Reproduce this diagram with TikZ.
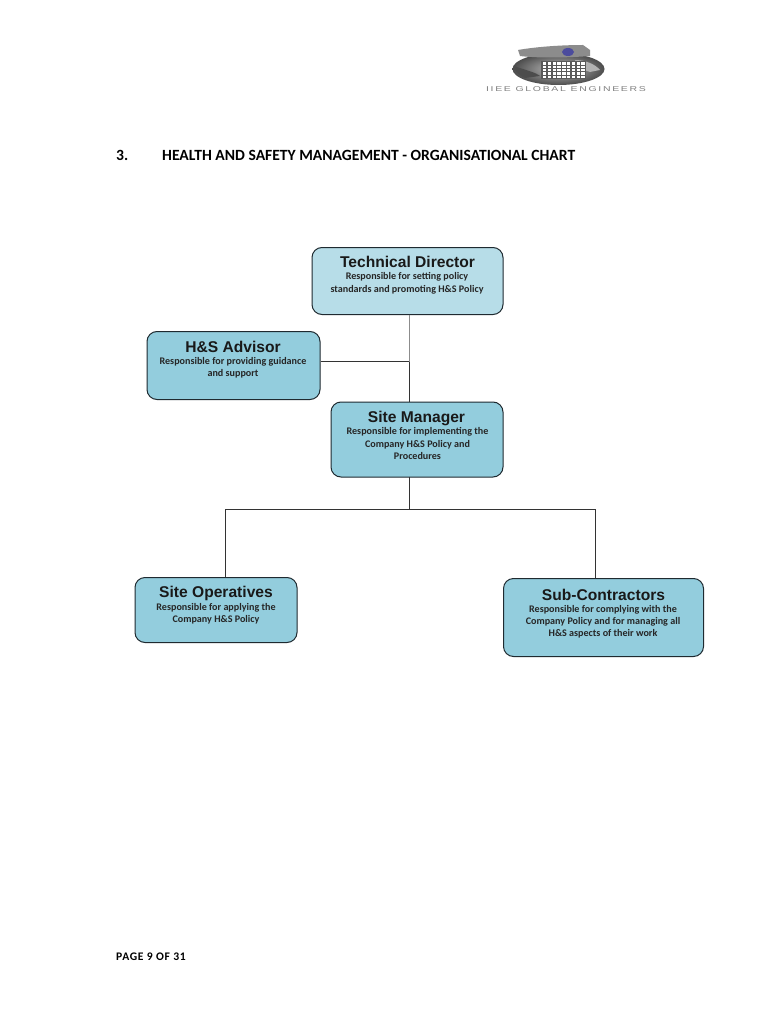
\documentclass[tikz,border=0pt]{standalone}
\usepackage{fontspec}
\setmainfont{Carlito}
\newfontfamily\headfont{Liberation Sans}
\usetikzlibrary{calc}
\definecolor{boxblue}{HTML}{93CDDD}
\definecolor{boxlight}{HTML}{B7DDE8}
\definecolor{edgecol}{HTML}{1F2A30}
\tikzset{
  x=1pt,y=-1pt,
  orgbox/.style={draw=edgecol,line width=1pt,rounded corners=10pt,fill=boxblue,inner sep=0pt},
  boxhead/.style={font=\headfont\bfseries\fontsize{15.6}{18}\selectfont,text=black!90,inner sep=0pt},
  boxbody/.style={font=\bfseries\fontsize{10.1}{12.3}\selectfont,text=black!85,align=center,inner sep=0pt,anchor=north},
  link/.style={draw=black!80,line width=0.9pt},
  pagetext/.style={font=\bfseries,text=black,inner sep=0pt,anchor=west},
}
\begin{document}
\begin{tikzpicture}
\useasboundingbox (0,0) rectangle (768,1024);
\fill[white] (0,0) rectangle (768,1024);

% logo
\begin{scope}
  \shade[inner color=black!25,outer color=black!70] (558.5,69) ellipse [x radius=46,y radius=16];
  \fill[black!30] (575,60) .. controls (585,60) and (595,64) .. (600,70) -- (590,72) -- (578,68) -- cycle;
  \fill[black!70] (514,66) .. controls (525,70) and (535,72) .. (540,76) -- (525,78) .. controls (518,75) and (514,71) .. (514,66) -- cycle;
  \fill[black!45] (518,50) .. controls (535,47) and (560,45) .. (583,45) -- (590,50) -- (590,56) .. controls (565,58) and (535,58) .. (520,56) -- cycle;
  \fill[black!55!blue!70!white] (568,52) ellipse [x radius=6,y radius=4];
  \fill[black!65] (541,61) rectangle (586,79);
  \foreach \r in {0,...,4}
    \foreach \c in {0,...,8}
      \fill[white] ({543+\c*4.8},{62.5+\r*3.3}) rectangle ++(3.4,2.3);
  \node[inner sep=0pt,text=black!50,xscale=1.5] (logotext) at (566,89.5)
    {\headfont\fontsize{7}{8}\selectfont\addfontfeature{LetterSpace=16}IIEE GLOBAL ENGINEERS};
\end{scope}

% page texts
\node[pagetext,font=\bfseries\fontsize{15.6}{18}\selectfont] (num) at (116,155) {3.};
\node[pagetext,font=\bfseries\fontsize{15.6}{18}\selectfont] (title) at (162,155) {HEALTH AND SAFETY MANAGEMENT - ORGANISATIONAL CHART};
\node[pagetext,font=\bfseries\fontsize{11.6}{14}\selectfont\addfontfeature{LetterSpace=6}] (page) at (116,957) {PAGE 9 OF 31};

% boxes
\node[orgbox,fill=boxlight,minimum width=191pt,minimum height=67pt] (td) at (407.5,281) {};
\node[orgbox,minimum width=173pt,minimum height=68pt] (hs) at (233.5,365.5) {};
\node[orgbox,minimum width=172pt,minimum height=75pt] (sm) at (417,439.5) {};
\node[orgbox,minimum width=162pt,minimum height=65pt] (so) at (216,610) {};
\node[orgbox,minimum width=200pt,minimum height=78pt] (sc) at (603.5,617.5) {};

% box texts
\node[boxhead] (tdh) at (407.5,262) {Technical Director};
\node[boxbody] (tdb) at (407,272.5) {Responsible for setting policy\\[0.4pt]standards and promoting H\&S Policy};
\node[boxhead] (hsh) at (233,347) {H\&S Advisor};
\node[boxbody] (hsb) at (233,357) {Responsible for providing guidance\\and support};
\node[boxhead] (smh) at (416.5,418) {Site Manager};
\node[boxbody] (smb) at (417.5,427.5) {Responsible for implementing the\\Company H\&S Policy and\\Procedures};
\node[boxhead] (soh) at (216,593) {Site Operatives};
\node[boxbody] (sob) at (216,603) {Responsible for applying the\\Company H\&S Policy};
\node[boxhead] (sch) at (603.5,594.5) {Sub-Contractors};
\node[boxbody] (scb) at (603,605) {Responsible for complying with the\\Company Policy and for managing all\\H\&S aspects of their work};

% connectors
\coordinate (tdf) at (409,314.5);
\coordinate (smt) at (409,402);
\coordinate (hsj) at (409,361.5);
\coordinate (smf) at (409,477);
\coordinate (bus) at (409,509);
\draw[link,draw=black!45] (tdf) -- (hsj);
\draw[link] (hsj) -- (smt);
\draw[link] (hs.east |- hsj) -- (hsj);
\draw[link] (smf) -- (bus);
\draw[link] (so.north -| 225.5,0) |- (bus);
\draw[link] (sc.north -| 595,0) |- (bus);
\end{tikzpicture}
\end{document}
